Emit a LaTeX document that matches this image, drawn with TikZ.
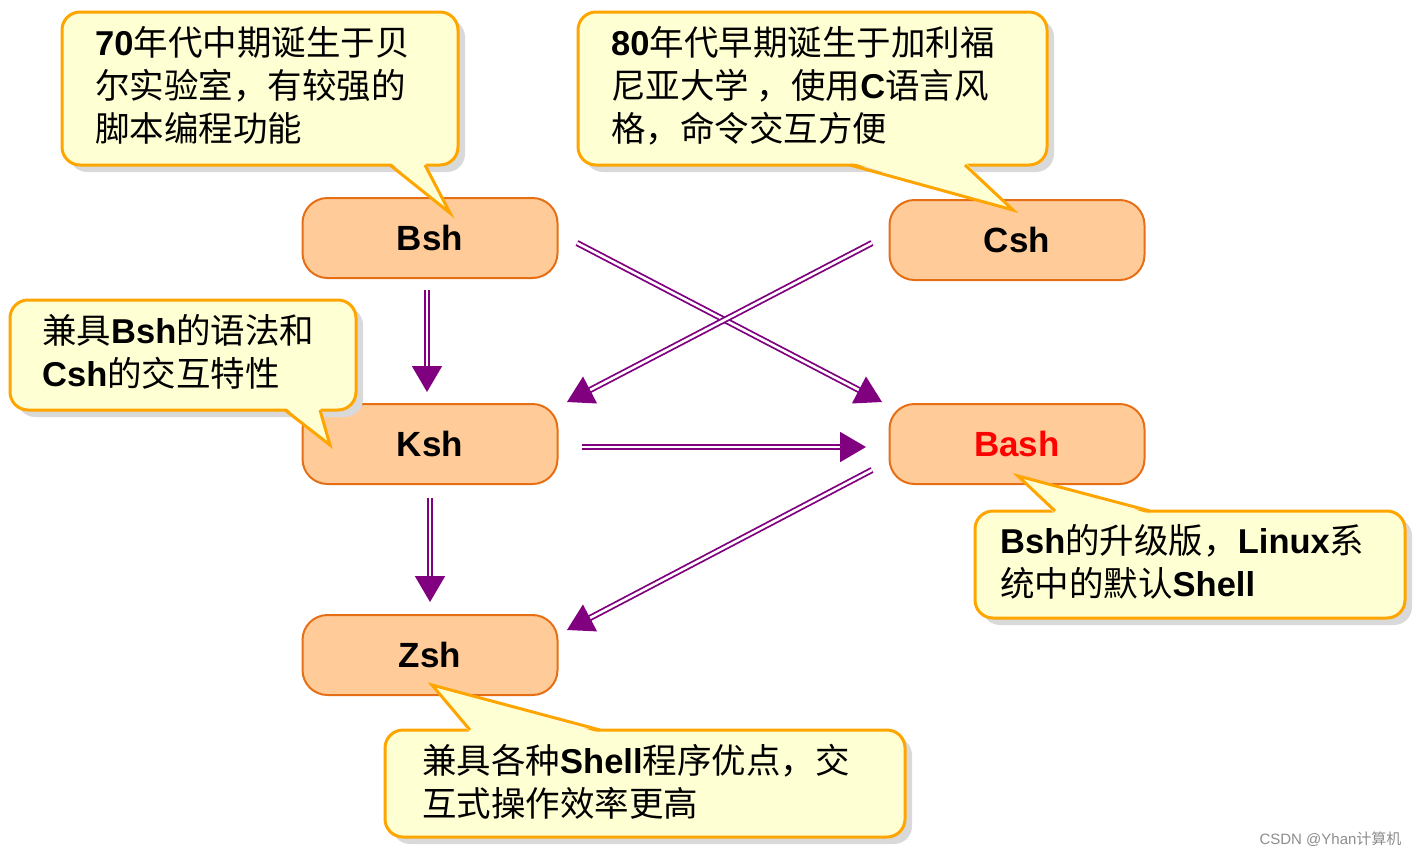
\documentclass[tikz,border=0pt]{standalone}
\usepackage{fontspec}
\setmainfont{Liberation Sans}
\newfontfamily\cjk{Noto Sans CJK SC}
\usetikzlibrary{arrows.meta}
\definecolor{nodefill}{RGB}{255,204,153}
\definecolor{nodeline}{RGB}{230,110,20}
\definecolor{calfill}{RGB}{255,255,212}
\definecolor{calline}{RGB}{255,165,0}
\definecolor{arr}{RGB}{128,0,128}
\newcommand{\zh}[1]{{\cjk #1}}
\begin{document}
\begin{tikzpicture}[x=1pt,y=-1pt,
  shell/.style={draw=nodeline,line width=2pt,fill=nodefill,rounded corners=25pt,minimum width=255pt,minimum height=80pt,font=\fontsize{35}{40}\selectfont\bfseries},
  calbox/.style={draw=calline,line width=3pt,fill=calfill,rounded corners=18pt},
  calshadow/.style={fill=black!15,rounded corners=18pt},
  caltext/.style={anchor=north west,inner sep=0pt,align=left,font=\fontsize{34.5}{43}\selectfont},
  link/.style={draw=arr,line width=1.8pt,double=white,double distance=2.6pt,-{Triangle[length=26pt,width=30pt,fill=arr]}},
  wm/.style={text=black!45,font=\fontsize{15}{18}\selectfont}]
\useasboundingbox (0,0) rectangle (1419,857);
% nodes
\node[shell] (Bsh) at (430,238) {Bsh};
\node[shell] (Csh) at (1017,240) {Csh};
\node[shell] (Ksh) at (430,444) {Ksh};
\node[shell,text=red] (Bash) at (1017,444) {Bash};
\node[shell] (Zsh) at (430,655) {Zsh};
% arrow end coordinates
\coordinate (a1) at (427,290); \coordinate (b1) at (427,392);
\coordinate (a2) at (577,243); \coordinate (b2) at (882,402);
\coordinate (a3) at (872,243); \coordinate (b3) at (567,402);
\coordinate (a4) at (582,447); \coordinate (b4) at (866,447);
\coordinate (a5) at (430,498); \coordinate (b5) at (430,602);
\coordinate (a6) at (872,470); \coordinate (b6) at (567,630);
\draw[link] (a1) -- (b1);
\draw[link] (a2) -- (b2);
\draw[link] (a3) -- (b3);
\draw[link] (a4) -- (b4);
\draw[link] (a5) -- (b5);
\draw[link] (a6) -- (b6);
\newcommand{\calloutbottom}[7]{%
  \fill[calshadow] (#1+7,#2+7) rectangle (#3+7,#4+7);
  \path[calbox] (#1,#2) rectangle (#3,#4);
  \fill[calfill] (#5,#4-3) -- (#6,#4-3) -- (#7) -- cycle;
  \draw[calline,line width=3pt,line join=miter] (#5,#4) -- (#7) -- (#6,#4);}
\newcommand{\callouttop}[7]{%
  \fill[calshadow] (#1+7,#2+7) rectangle (#3+7,#4+7);
  \path[calbox] (#1,#2) rectangle (#3,#4);
  \fill[calfill] (#5,#2+3) -- (#6,#2+3) -- (#7) -- cycle;
  \draw[calline,line width=3pt,line join=miter] (#5,#2) -- (#7) -- (#6,#2);}
\calloutbottom{62}{12}{458}{165}{390}{425}{450,213}
\calloutbottom{578}{12}{1047}{165}{850}{965}{1013,210}
\calloutbottom{10}{300}{356}{410}{285}{320}{330,445}
\callouttop{975}{511}{1405}{618}{1055}{1150}{1018,476}
\callouttop{385}{730}{905}{837}{470}{600}{432,685}
\node[caltext] (t1) at (95,26) {\textbf{70}\zh{年代中期诞生于贝}\\\zh{尔实验室，有较强的}\\\zh{脚本编程功能}};
\node[caltext] (t2) at (611,26) {\textbf{80}\zh{年代早期诞生于加利福}\\\zh{尼亚大学 ，使用}\textbf{C}\zh{语言风}\\\zh{格，命令交互方便}};
\node[caltext] (t3) at (42,314) {\zh{兼具}\textbf{Bsh}\zh{的语法和}\\\textbf{Csh}\zh{的交互特性}};
\node[caltext] (t4) at (1000,524) {\textbf{Bsh}\zh{的升级版，}\textbf{Linux}\zh{系}\\\zh{统中的默认}\textbf{Shell}};
\node[caltext] (t5) at (422,744) {\zh{兼具各种}\textbf{Shell}\zh{程序优点，交}\\\zh{互式操作效率更高}};
\node[wm,anchor=south east] (w) at (1405,850) {CSDN @Yhan\zh{计算机}};
\end{tikzpicture}
\end{document}
